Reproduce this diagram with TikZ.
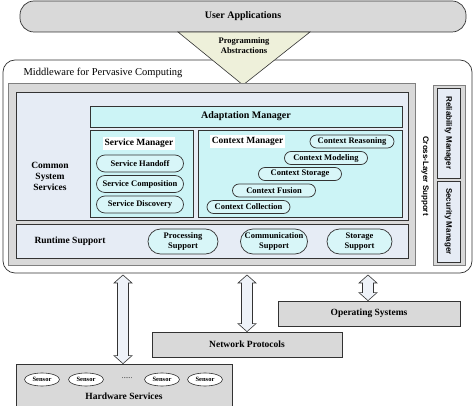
\documentclass[tikz,border=0pt]{standalone}
\usepackage{fontspec}
\setmainfont{Liberation Serif}
\newfontfamily\arialfont{Liberation Sans}
\usetikzlibrary{shapes.misc,shapes.geometric,calc}

\definecolor{boxgray}{HTML}{D9D9D9}
\definecolor{paleblue}{HTML}{E6ECF5}
\definecolor{palecyan}{HTML}{CCF4F6}
\definecolor{pillcyan}{HTML}{D8F6F8}
\definecolor{trifill}{HTML}{EEF0DA}
\definecolor{arrowfill}{HTML}{EEF2F8}
\definecolor{edge}{HTML}{333333}

% hollow two-headed block arrow between two named points
\newcommand{\blockarrow}[2]{%
  \filldraw[fill=arrowfill,draw=edge,line width=0.6pt] let \p1=(#1), \p2=(#2) in
    (\x1,\y1) -- (\x1+9,\y1-8) -- (\x1+5.5,\y1-8) -- (\x1+5.5,\y2+8) -- (\x1+9,\y2+8)
    -- (\x1,\y2) -- (\x1-9,\y2+8) -- (\x1-5.5,\y2+8) -- (\x1-5.5,\y1-8) -- (\x1-9,\y1-8) -- cycle;}

\begin{document}
\begin{tikzpicture}[x=1pt,y=-1pt,
    box/.style={draw=edge,line width=0.7pt,inner sep=0pt},
    graybox/.style={box,fill=boxgray},
    bluebox/.style={box,fill=paleblue},
    cyanbox/.style={box,fill=palecyan},
    pill/.style={rounded rectangle,draw=edge,line width=0.7pt,fill=pillcyan,inner sep=0pt},
    lbl/.style={font=\fontsize{9.5}{11}\selectfont\bfseries},
    small/.style={font=\fontsize{8.5}{10}\selectfont\bfseries},
    side/.style={font=\fontsize{8}{9}\selectfont\arialfont\bfseries}]
    \useasboundingbox (0,0) rectangle (474,406);

    % outer layers
    \node[box,rounded corners=12pt,fill=white,minimum width=469pt,minimum height=213pt] (mw) at (237.5,166.5) {};
    \node[graybox,rounded corners=14pt,minimum width=446pt,minimum height=31pt,
          font=\fontsize{10}{12}\selectfont\bfseries] (user) at (243,16.5) {User Applications};
    \filldraw[fill=trifill,draw=edge,line width=0.6pt] (178,32) -- (310,32) -- (243,85) -- cycle;
    \node[small,align=center] (prog) at (244,46) {Programming\\Abstractions};
    \node[font=\fontsize{10.5}{12}\selectfont,anchor=west] (mwname) at (20,73) {Middleware for Pervasive Computing};

    % system services
    \node[graybox,draw=gray,minimum width=407pt,minimum height=182pt] (core) at (211.5,174) {};
    \node[bluebox,minimum width=392pt,minimum height=128pt] (css) at (212,156) {};
    \node[bluebox,minimum width=392pt,minimum height=34pt] (rts) at (212,241) {};
    \node[lbl,align=center] (cssname) at (50,176) {Common\\System\\Services};
    \node[cyanbox,minimum width=312pt,minimum height=21pt,
          font=\fontsize{10}{12}\selectfont\bfseries] (adapt) at (246,116.5) {Adaptation Manager};
    \node[cyanbox,minimum width=103pt,minimum height=87pt] (svc) at (141.5,173.5) {};
    \node[cyanbox,minimum width=204pt,minimum height=87pt] (ctx) at (300,173.5) {};

    \node[lbl,fill=white,inner sep=2pt] (svcname) at (139,143.5) {Service Manager};
    \node[pill,small,minimum width=87pt,minimum height=17pt] (handoff) at (140,163.5) {Service Handoff};
    \node[pill,small,minimum width=87pt,minimum height=17pt] (compose) at (140,184) {Service Composition};
    \node[pill,small,minimum width=87pt,minimum height=17pt] (discover) at (140,204.5) {Service Discovery};

    \node[lbl,fill=white,inner sep=2pt] (ctxname) at (247.5,141.5) {Context Manager};
    \node[pill,small,minimum width=84pt,minimum height=13pt] (reason) at (352,141.5) {Context Reasoning};
    \node[pill,small,minimum width=83pt,minimum height=13pt] (model) at (326,158) {Context Modeling};
    \node[pill,small,minimum width=83pt,minimum height=13pt] (store) at (300,174) {Context Storage};
    \node[pill,small,minimum width=83pt,minimum height=13pt] (fuse) at (274,190.5) {Context Fusion};
    \node[pill,small,minimum width=83pt,minimum height=13pt] (collect) at (248.5,207) {Context Collection};

    % runtime support
    \node[lbl] (rtsname) at (70,241) {Runtime Support};
    \node[pill,small,align=center,minimum width=70pt,minimum height=25pt] (proc) at (183,241.5) {Processing\\Support};
    \node[pill,small,align=center,minimum width=67pt,minimum height=25pt] (comm) at (274,241.5) {Communication\\Support};
    \node[pill,small,align=center,minimum width=65pt,minimum height=25pt] (stor) at (359.5,241.5) {Storage\\Support};

    % cross-layer support
    \node[side,rotate=-90] (xlayer) at (425,176) {Cross-Layer Support};
    \node[graybox,draw=gray,minimum width=32pt,minimum height=180pt] (xbox) at (449,175) {};
    \node[bluebox,side,rotate=-90,minimum width=90pt,minimum height=23pt] (rel) at (448.5,133) {Reliability Manager};
    \node[bluebox,side,rotate=-90,minimum width=81pt,minimum height=23pt] (sec) at (448.5,221.5) {Security Manager};

    % lower layers
    \node[graybox,lbl,minimum width=182pt,minimum height=25pt] (os) at (369,313.5) {Operating Systems};
    \node[graybox,lbl,minimum width=190pt,minimum height=25pt] (net) at (247,344.5) {Network Protocols};
    \node[graybox,minimum width=216pt,minimum height=46pt] (hw) at (124,387) {};
    \node[lbl] (hwname) at (124,396) {Hardware Services};
    \foreach \sx/\sn in {42/s1, 86/s2, 162/s3, 205/s4}
        \node[ellipse,draw=edge,line width=0.6pt,fill=white,inner sep=0pt,minimum width=35pt,minimum height=13pt,
              font=\fontsize{6.5}{7}\selectfont\bfseries] (\sn) at (\sx,379.5) {Sensor};
    \node[font=\fontsize{7}{8}\selectfont] (dots) at (127,378) {......};

    % arrows
    \coordinate (a1top) at (123,275);  \coordinate (a1bot) at (hw.north -| a1top);
    \coordinate (a2top) at (247,275);  \coordinate (a2bot) at (net.north -| a2top);
    \coordinate (a3top) at (368,275);  \coordinate (a3bot) at (os.north -| a3top);
    \blockarrow{a1top}{a1bot}
    \blockarrow{a2top}{a2bot}
    \blockarrow{a3top}{a3bot}
\end{tikzpicture}
\end{document}
